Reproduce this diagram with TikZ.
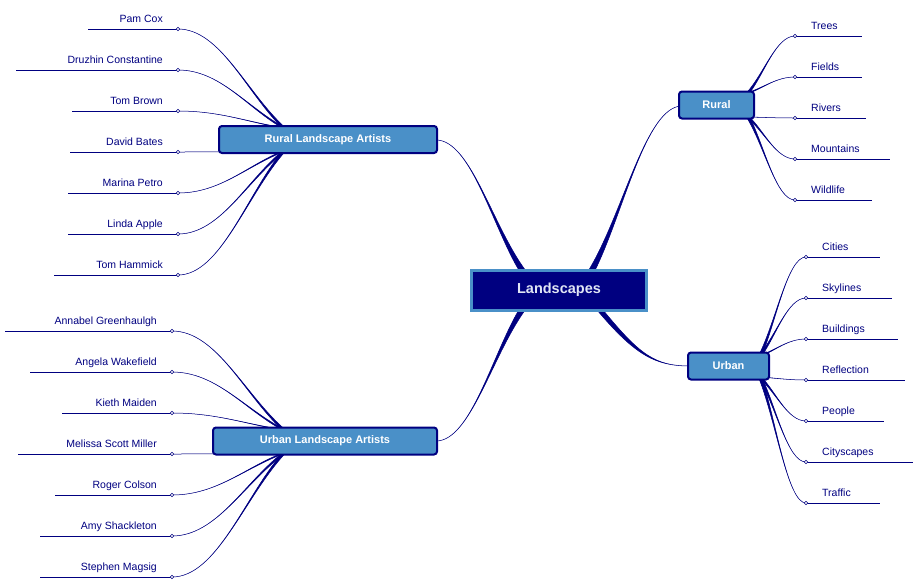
\documentclass[tikz,border=0pt]{standalone}
\usepackage{fontspec}
\setmainfont{Liberation Sans}
\usetikzlibrary{calc}
\definecolor{navy}{RGB}{0,0,128}
\definecolor{lblue}{RGB}{74,144,200}
\definecolor{ltxt}{RGB}{225,230,245}
\tikzset{
 leaftext/.style={font=\fontsize{10.5}{12}\selectfont, text=navy, inner sep=1pt},
 uline/.style={navy, line width=0.7pt},
 dot/.style={navy, fill=white, line width=0.5pt},
 topic/.style={draw=navy, line width=2pt, fill=lblue, rounded corners=3pt, text=white, font=\bfseries\fontsize{11}{13}\selectfont, minimum height=27pt, inner xsep=8pt},
 center/.style={draw=lblue, line width=3pt, fill=navy, text=ltxt, font=\bfseries\fontsize{14.5}{17}\selectfont, minimum width=175pt, minimum height=40pt},
 branch/.style={fill=navy, draw=navy, line width=0.5pt}
}
\newcommand\tap[3]{%
 \filldraw[branch] ($(#1)+(-#3,0)$) .. controls ($(#1)!0.35!(#2)$) and ($(#1|-#2)!0.6!(#2)$) .. (#2)
   .. controls ($(#1|-#2)!0.6!(#2)$) and ($(#1)!0.35!(#2)$) .. ($(#1)+(#3,0)$) -- cycle;}
% left leaf: name, text, circle x, y, line start x, anchor
\newcommand\leafL[6]{%
 \coordinate (c#1) at (#3,#4); \coordinate (s#1) at (#5,#4);
 \tap{#6}{c#1}{1.6}
 \draw[uline] (s#1) -- (c#1);
 \node[leaftext, anchor=base east] (t#1) at ($(c#1)+(-14,-7)$) {#2};
 \draw[dot] (c#1) circle (1.8);}
\newcommand\leafR[6]{%
 \coordinate (c#1) at (#3,#4); \coordinate (s#1) at (#5,#4);
 \tap{#6}{c#1}{1.6}
 \draw[uline] (c#1) -- (s#1);
 \node[leaftext, anchor=base west] (t#1) at ($(c#1)+(15,-7)$) {#2};
 \draw[dot] (c#1) circle (1.8);}
\begin{document}
\begin{tikzpicture}[x=1pt,y=-1pt]
\useasboundingbox (0,0) rectangle (918,582);
% anchor coordinates
\coordinate (rlaT) at (284,128); \coordinate (rlaB) at (284,151);
\coordinate (ulaT) at (284,430); \coordinate (ulaB) at (284,453);
\coordinate (ruT) at (748,93); \coordinate (ruB) at (748,117);
\coordinate (urT) at (760,356); \coordinate (urB) at (760,377);
\coordinate (cRT) at (592,270); \coordinate (cLT) at (522,270);
\coordinate (cLB) at (522,310); \coordinate (cRB) at (600,310);
\coordinate (eR) at (682,106); \coordinate (eRLA) at (436,140);
\coordinate (eULA) at (436,441); \coordinate (eU) at (690,366);
% main connectors
\tap{cRT}{eR}{3.2}
\tap{cLT}{eRLA}{3.2}
\tap{cLB}{eULA}{3.2}
\filldraw[branch] ($(cRB)+(-3,0)$) .. controls (635,355) and (655,366) .. (eU) .. controls (655,366) and (640,355) .. ($(cRB)+(3,0)$) -- cycle;
% rural artists
\leafL{a1}{Pam Cox}{178}{29}{88}{rlaT}
\leafL{a2}{Druzhin Constantine}{178}{70}{16}{rlaT}
\leafL{a3}{Tom Brown}{178}{111}{72}{rlaT}
\leafL{a4}{David Bates}{178}{152}{70}{rlaB}
\leafL{a5}{Marina Petro}{178}{193}{68}{rlaB}
\leafL{a6}{Linda Apple}{178}{234}{68}{rlaB}
\leafL{a7}{Tom Hammick}{178}{275}{54}{rlaB}
% urban artists
\leafL{b1}{Annabel Greenhaulgh}{172}{331}{5}{ulaT}
\leafL{b2}{Angela Wakefield}{172}{372}{30}{ulaT}
\leafL{b3}{Kieth Maiden}{172}{413}{62}{ulaT}
\leafL{b4}{Melissa Scott Miller}{172}{454}{18}{ulaB}
\leafL{b5}{Roger Colson}{172}{495}{55}{ulaB}
\leafL{b6}{Amy Shackleton}{172}{536}{40}{ulaB}
\leafL{b7}{Stephen Magsig}{172}{577}{40}{ulaB}
% rural
\leafR{r1}{Trees}{795}{36}{862}{ruT}
\leafR{r2}{Fields}{795}{77}{862}{ruT}
\leafR{r3}{Rivers}{795}{118}{866}{ruB}
\leafR{r4}{Mountains}{795}{159}{890}{ruB}
\leafR{r5}{Wildlife}{795}{200}{872}{ruB}
% urban
\leafR{u1}{Cities}{806}{257}{880}{urT}
\leafR{u2}{Skylines}{806}{298}{892}{urT}
\leafR{u3}{Buildings}{806}{339}{898}{urT}
\leafR{u4}{Reflection}{806}{380}{905}{urB}
\leafR{u5}{People}{806}{421}{884}{urB}
\leafR{u6}{Cityscapes}{806}{462}{913}{urB}
\leafR{u7}{Traffic}{806}{503}{880}{urB}
% nodes
\node[center] (land) at (559,290) {Landscapes};
\node[topic, minimum width=218pt] (rla) at (328,139.5) {Rural Landscape Artists};
\node[topic, minimum width=224pt] (ula) at (325,441) {Urban Landscape Artists};
\node[topic, minimum width=75pt] (rural) at (716.5,105) {Rural};
\node[topic, minimum width=81pt] (urban) at (728.5,366) {Urban};
\end{tikzpicture}
\end{document}
